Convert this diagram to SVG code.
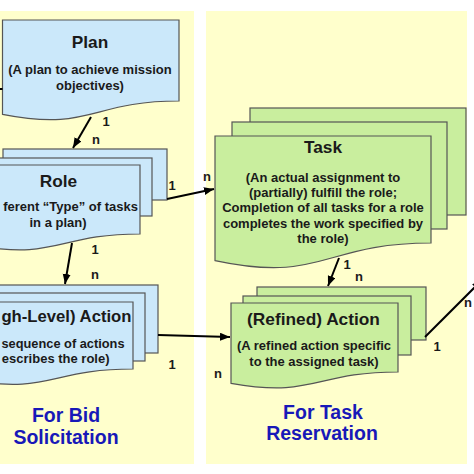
<svg xmlns="http://www.w3.org/2000/svg" width="474" height="474" viewBox="0 0 474 474">
<defs>
<style>
.panel{fill:#FFFFCC}
.blue{fill:#CBE8FA;stroke:#555;stroke-width:1.2}
.green{fill:#C9EE9E;stroke:#555;stroke-width:1.2}
.title{font-family:"Liberation Sans",Arial,sans-serif;font-weight:bold;font-size:17.3px;fill:#1a1a1a;text-anchor:middle}
.body{font-family:"Liberation Sans",Arial,sans-serif;font-weight:bold;font-size:13px;fill:#1a1a1a;text-anchor:middle}
.end{text-anchor:end}
.lbl{font-family:"Liberation Sans",Arial,sans-serif;font-weight:bold;font-size:13px;fill:#1a1a1a;text-anchor:middle}
.cap{font-family:"Liberation Sans",Arial,sans-serif;font-weight:bold;font-size:19.5px;fill:#1818B8;text-anchor:middle}
.conn{stroke:#000;stroke-width:2;fill:none;marker-end:url(#ah)}
</style>
<marker id="ah" markerUnits="userSpaceOnUse" markerWidth="11" markerHeight="9" refX="10" refY="4" orient="auto">
<path d="M0,0 L10,4 L0,8 Z" fill="#000"/>
</marker>
</defs>
<rect width="474" height="474" fill="#fff"/>
<rect class="panel" x="0" y="11" width="194" height="453"/>
<rect class="panel" x="206" y="11" width="261" height="453"/>

<g id="plan">
<path class="blue" d="M2.5,20 H179 V101 C90.75,101 90.75,131.8 2.5,114.3 Z"/>
<text class="title" x="90" y="48">Plan</text>
<text class="body" x="90" y="74">(A plan to achieve mission</text>
<text class="body" x="90" y="90">objectives)</text>
</g>

<g id="role">
<rect class="blue" x="3" y="149" width="164" height="51"/>
<rect class="blue" x="-11" y="158" width="163" height="58"/>
<path class="blue" d="M-25,165 H140 V234 C57.5,234 57.5,260.2 -25,245.3 Z"/>
<text class="title" x="58.5" y="187">Role</text>
<text class="body end" x="138" y="211">ferent “Type” of tasks</text>
<text class="body" x="58" y="227">in a plan)</text>
</g>

<g id="hl-action">
<rect class="blue" x="-7" y="285" width="165" height="68"/>
<rect class="blue" x="-20" y="293" width="165" height="68"/>
<path class="blue" d="M-32,302 H133 V369 C50.5,369 50.5,394.4 -32,380 Z"/>
<text class="title end" x="131.5" y="322" style="font-size:16.7px">gh-Level) Action</text>
<text class="body end" x="124.5" y="348" style="font-size:12.8px">sequence of actions</text>
<text class="body end" x="109.5" y="363">escribes the role)</text>
</g>

<g id="task">
<rect class="green" x="250" y="108" width="216" height="107"/>
<rect class="green" x="232" y="122" width="215" height="107"/>
<path class="green" d="M215,136 H431 V243 C323,243 323,283.7 215,260.6 Z"/>
<text class="title" x="323" y="152.5">Task</text>
<text class="body" x="323" y="182">(An actual assignment to</text>
<text class="body" x="323" y="197">(partially) fulfill the role;</text>
<text class="body" x="323" y="212">Completion of all tasks for a role</text>
<text class="body" x="323" y="227.5">completes the work specified by</text>
<text class="body" x="323" y="243">the role)</text>
</g>

<g id="refined-action">
<rect class="green" x="257" y="287" width="169" height="53"/>
<rect class="green" x="243" y="296" width="168" height="59"/>
<path class="green" d="M231,303 H398 V372 C314.5,372 314.5,398.2 231,383.3 Z"/>
<text class="title" x="313.5" y="324.5">(Refined) Action</text>
<text class="body" x="314" y="350">(A refined action specific</text>
<text class="body" x="314" y="366">to the assigned task)</text>
</g>

<g id="caption-bid">
<text class="cap" x="66" y="422">For Bid</text>
<text class="cap" x="66" y="444">Solicitation</text>
</g>
<g id="caption-task">
<text class="cap" x="323" y="418.5">For Task</text>
<text class="cap" x="322" y="440">Reservation</text>
</g>

<g id="connectors">
<line class="conn" x1="-20" y1="89" x2="2.5" y2="89"/>
<line class="conn" x1="91" y1="117" x2="73" y2="148"/>
<line class="conn" x1="167" y1="199" x2="214" y2="189"/>
<line class="conn" x1="72" y1="243" x2="65" y2="284"/>
<line class="conn" x1="158" y1="335" x2="230" y2="337"/>
<line class="conn" x1="339" y1="258" x2="328" y2="286"/>
<line class="conn" x1="425" y1="337" x2="482" y2="280"/>
<text class="lbl" x="106" y="126">1</text>
<text class="lbl" x="96" y="144">n</text>
<text class="lbl" x="172" y="190">1</text>
<text class="lbl" x="207" y="181">n</text>
<text class="lbl" x="95" y="254">1</text>
<text class="lbl" x="95" y="279">n</text>
<text class="lbl" x="172" y="369">1</text>
<text class="lbl" x="218" y="378">n</text>
<text class="lbl" x="347" y="269">1</text>
<text class="lbl" x="359" y="281">n</text>
<text class="lbl" x="437" y="351">1</text>
<text class="lbl" x="468" y="307">n</text>
</g>
</svg>
